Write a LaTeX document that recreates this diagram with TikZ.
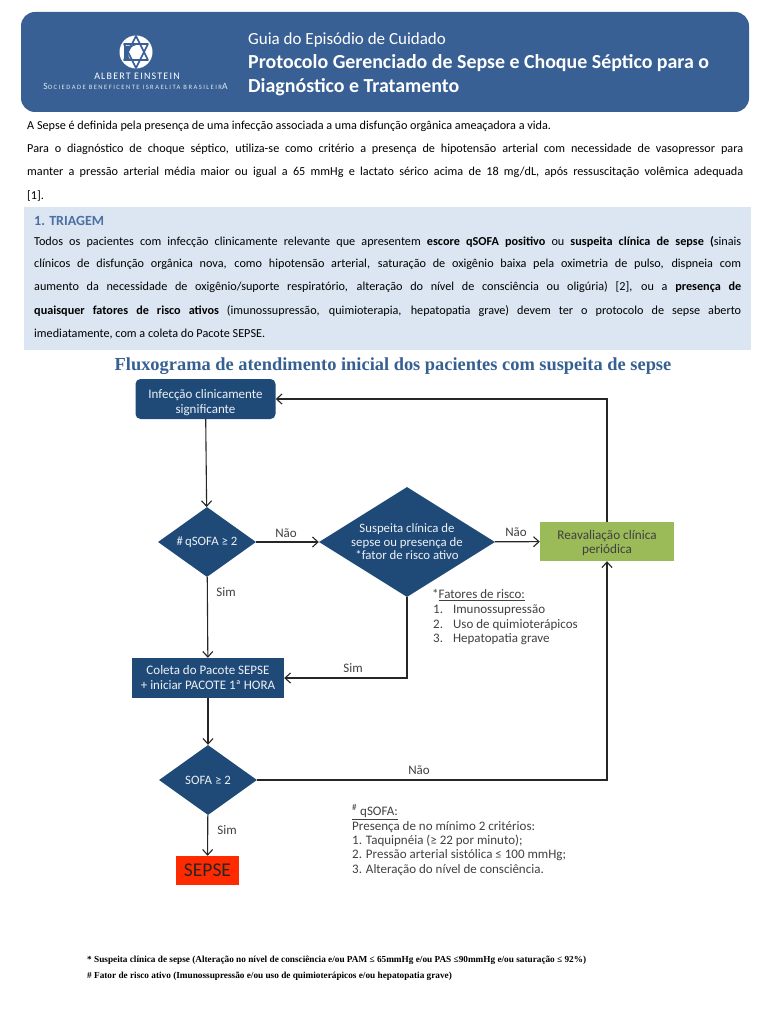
\documentclass[tikz,border=0pt]{standalone}
\usepackage{fontspec}
\setmainfont{Carlito}
\newfontfamily\serifb{Liberation Serif}[Scale=1]
\usetikzlibrary{shapes.geometric,arrows.meta}
\definecolor{hdr}{HTML}{396094}
\definecolor{nodeblue}{HTML}{1F4A78}
\definecolor{tribg}{HTML}{DCE6F2}
\definecolor{trit}{HTML}{4A6FA5}
\definecolor{ttl}{HTML}{366092}
\definecolor{grn}{HTML}{9BBB59}
\definecolor{rd}{HTML}{FF2A00}
\definecolor{wt}{HTML}{EDF1F5}
\definecolor{lbl}{HTML}{404040}
\newcommand{\jl}[1]{\hbox to 716pt{#1}}
\tikzset{
  txt/.style={anchor=west,inner sep=0pt,font=\fontsize{12.2}{14}\selectfont,text=black},
  flowbox/.style={fill=nodeblue,text=wt,align=center,inner sep=0pt,font=\fontsize{13}{15}\selectfont},
  dia/.style={diamond,fill=nodeblue,text=wt,align=center,inner sep=0pt,font=\fontsize{12.8}{13.5}\selectfont},
  arr/.style={draw=black!85,line width=1.1pt,-{Straight Barb[length=5.5pt,width=10pt,line width=1.1pt]}},
  lab/.style={inner sep=0pt,text=lbl,font=\fontsize{13}{15}\selectfont},
  note/.style={anchor=west,inner sep=0pt,text=lbl,font=\fontsize{13}{15}\selectfont},
  foot/.style={anchor=west,inner sep=0pt,text=black,font=\serifb\bfseries\fontsize{9.25}{10}\selectfont},
}
\begin{document}
\begin{tikzpicture}[x=1pt,y=-1pt]
\useasboundingbox (0,0) rectangle (768,1024);
\fill[white] (0,0) rectangle (768,1024);
% header
\fill[hdr,rounded corners=14pt] (21,12) rectangle (749,112);
% logo
\fill[white] (136,52) circle (16.5);
\draw[hdr,line width=1.6pt,line join=round] (136,36) -- (148,60) -- (124,60) -- cycle;
\draw[hdr,line width=1.6pt,line join=round] (136,68) -- (124,44) -- (148,44) -- cycle;
\fill[hdr] (136,45) .. controls (126,48) and (127,56) .. (131,61) -- (124,60) -- (124,46) -- cycle;
\node[inner sep=0pt,text=white,font=\fontsize{10}{11}\selectfont] (lg1) at (137,76) {\addfontfeature{LetterSpace=12}ALBERT EINSTEIN};
\node[inner sep=0pt,text=white!85!hdr,font=\fontsize{6.6}{10}\selectfont] (lg2) at (135.5,86.5) {\addfontfeature{LetterSpace=22}{\fontsize{9.5}{10}\selectfont S}OCIEDADE BENEFICENTE ISRAELITA BRASILEIR{\fontsize{9.5}{10}\selectfont A}};
\node[anchor=west,inner sep=0pt,text=white,font=\fontsize{17}{20}\selectfont] (h1) at (248,40) {Guia do Episódio de Cuidado};
\node[anchor=west,inner sep=0pt,text=white,font=\bfseries\fontsize{19.9}{22}\selectfont] (h2) at (248,63) {Protocolo Gerenciado de Sepse e Choque Séptico para o};
\node[anchor=west,inner sep=0pt,text=white,font=\bfseries\fontsize{19.9}{22}\selectfont] (h3) at (248,87) {Diagnóstico e Tratamento};
% intro
\node[txt] (i1) at (27,126) {A Sepse é definida pela presença de uma infecção associada a uma disfunção orgânica ameaçadora a vida.};
\node[txt] (i2) at (27,149) {\jl{Para o diagnóstico de choque séptico, utiliza-se como critério a presença de hipotensão arterial com necessidade de vasopressor para}};
\node[txt] (i3) at (27,172) {\jl{manter a pressão arterial média maior ou igual a 65 mmHg e lactato sérico acima de 18 mg/dL, após ressuscitação volêmica adequada}};
\node[txt] (i4) at (27,196) {[1].};
% triagem
\fill[tribg] (24,207) rectangle (751,350);
\node[anchor=west,inner sep=0pt,text=trit,font=\bfseries\fontsize{14}{16}\selectfont] (t0) at (34,221) {1. TRIAGEM};
\node[txt] (t1) at (34,242) {\hbox to 707pt{Todos os pacientes com infecção clinicamente relevante que apresentem \textbf{escore qSOFA positivo} ou \textbf{suspeita clínica de sepse (}sinais}};
\node[txt] (t2) at (34,264) {\hbox to 707pt{clínicos de disfunção orgânica nova, como hipotensão arterial, saturação de oxigênio baixa pela oximetria de pulso, dispneia com}};
\node[txt] (t3) at (34,287) {\hbox to 707pt{aumento da necessidade de oxigênio/suporte respiratório, alteração do nível de consciência ou oligúria) [2], ou a \textbf{presença de}}};
\node[txt] (t4) at (34,311) {\hbox to 707pt{\textbf{quaisquer fatores de risco ativos} (imunossupressão, quimioterapia, hepatopatia grave) devem ter o protocolo de sepse aberto}};
\node[txt] (t5) at (34,334) {imediatamente, com a coleta do Pacote SEPSE.};
% title
\node[inner sep=0pt,text=ttl,font=\serifb\bfseries\fontsize{18.4}{20}\selectfont] (ttl) at (393,366.5) {Fluxograma de atendimento inicial dos pacientes com suspeita de sepse};
% flow
\node[flowbox,rounded corners=5pt,minimum width=140pt,minimum height=40pt] (start) at (205.5,399) {\rule{0pt}{16pt}Infecção clinicamente\\significante};
\node[dia,minimum width=98pt,minimum height=70pt,aspect=1.4] (q) at (207,542) {\#\,qSOFA ≥ 2};
\node[dia,minimum width=176pt,minimum height=110pt,aspect=1.6] (susp) at (407,542) {Suspeita clínica de\\sepse ou presença de\\*fator de risco ativo};
\node[fill=grn,text=black!75,align=center,inner sep=0pt,minimum width=134pt,minimum height=39pt,font=\fontsize{13.2}{14}\selectfont] (green) at (607,541.5) {\rule{0pt}{12pt}Reavaliação clínica\\periódica};
\node[flowbox,minimum width=152pt,minimum height=40pt] (coleta) at (208,678) {Coleta do Pacote SEPSE\\+ iniciar PACOTE 1ª HORA};
\node[dia,minimum width=98pt,minimum height=70pt,aspect=1.4] (sofa) at (208,780) {SOFA ≥ 2};
\node[fill=rd,text=black!85,inner sep=0pt,minimum width=63pt,minimum height=29pt,font=\fontsize{19.5}{22}\selectfont] (sepse) at (207.5,870.5) {SEPSE};
\draw[arr] (start) -- (q);
\draw[arr] (q) -- (susp);
\draw[arr] (susp) -- (green);
\draw[arr] (q) -- (coleta);
\draw[arr] (coleta) -- (sofa);
\draw[arr] (sofa) -- (sepse);
\draw[arr] (green.north) |- (start.east);
\draw[arr] (susp.south) |- (coleta.east);
\draw[arr] (sofa.east) -| (green.south);
% labels
\node[lab] (n1) at (286,533) {Não};
\node[lab] (n2) at (516,532) {Não};
\node[lab] (s1) at (226,592) {Sim};
\node[lab] (s2) at (353,668) {Sim};
\node[lab] (n3) at (419,770) {Não};
\node[lab] (s3) at (227,830) {Sim};
% notes
\node[note] (f0) at (432,595) {*\underline{Fatores de risco:}};
\node[note] (f1) at (433,610) {1.\hspace{10pt}Imunossupressão};
\node[note] (f2) at (433,625) {2.\hspace{10pt}Uso de quimioterápicos};
\node[note] (f3) at (433,639) {3.\hspace{10pt}Hepatopatia grave};
\node[note] (g0) at (352,812) {\underline{\textsuperscript{\#} qSOFA:}};
\node[note] (g1) at (352,827) {Presença de no mínimo 2 critérios:};
\node[note] (g2) at (352,841) {1. Taquipnéia (≥ 22 por minuto);};
\node[note] (g3) at (352,855) {2. Pressão arterial sistólica ≤ 100 mmHg;};
\node[note] (g4) at (352,870) {3. Alteração do nível de consciência.};
% footer
\node[foot] (p1) at (87,960) {* Suspeita clínica de sepse (Alteração no nível de consciência e/ou PAM ≤ 65mmHg e/ou PAS ≤90mmHg e/ou saturação ≤ 92\%)};
\node[foot] (p2) at (87,976) {\# Fator de risco ativo (Imunossupressão e/ou uso de quimioterápicos e/ou hepatopatia grave)};
\end{tikzpicture}
\end{document}
